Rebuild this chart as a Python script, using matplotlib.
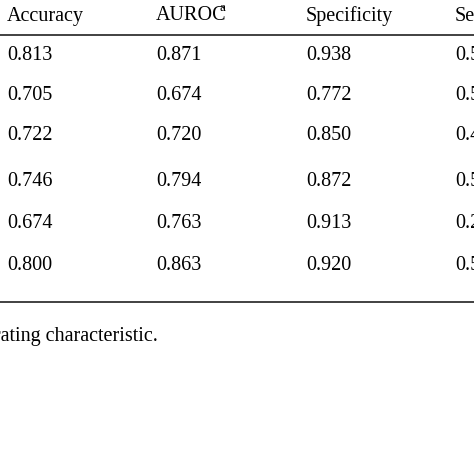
import matplotlib
matplotlib.use("Agg")
import matplotlib.pyplot as plt

headers = ["Accuracy", "AUROC", "Specificity", "Sensitivity"]
accuracy = ["0.813", "0.705", "0.722", "0.746", "0.674", "0.800"]
auroc = ["0.871", "0.674", "0.720", "0.794", "0.763", "0.863"]
specificity = ["0.938", "0.772", "0.850", "0.872", "0.913", "0.920"]
sensitivity = ["0.563", "0.563", "0.438", "0.563", "0.250", "0.563"]
footnote = "Area under the receiver operating characteristic."

W = H = 474
fig = plt.figure(figsize=(4.74, 4.74), dpi=100)
fig.patch.set_facecolor("white")
ff = "Liberation Serif"
fs = 14.5

def X(px): return px / W
def Y(py): return 1 - py / H

cols_x = [7, 156, 306, 455]
for x, h in zip(cols_x, headers):
    fig.text(X(x), Y(16), h, family=ff, fontsize=fs, va="center", ha="left")
fig.text(X(219), Y(8), "a", family=ff, fontsize=9.5, va="center", ha="left")

rows_y = [55, 95, 136, 181, 223, 266]
for j, col in enumerate([accuracy, auroc, specificity, sensitivity]):
    for y, v in zip(rows_y, col):
        fig.text(X(cols_x[j]), Y(y), v, family=ff, fontsize=fs, va="center", ha="left")

for y, lw in [(35, 1.3), (302, 1.3)]:
    fig.add_artist(plt.Line2D([0, 1], [Y(y), Y(y)], color="#333333", lw=lw,
                              transform=fig.transFigure))

fig.text(X(158), Y(337), footnote, family=ff, fontsize=fs, va="center", ha="right")

fig.savefig("out.png", dpi=100)
